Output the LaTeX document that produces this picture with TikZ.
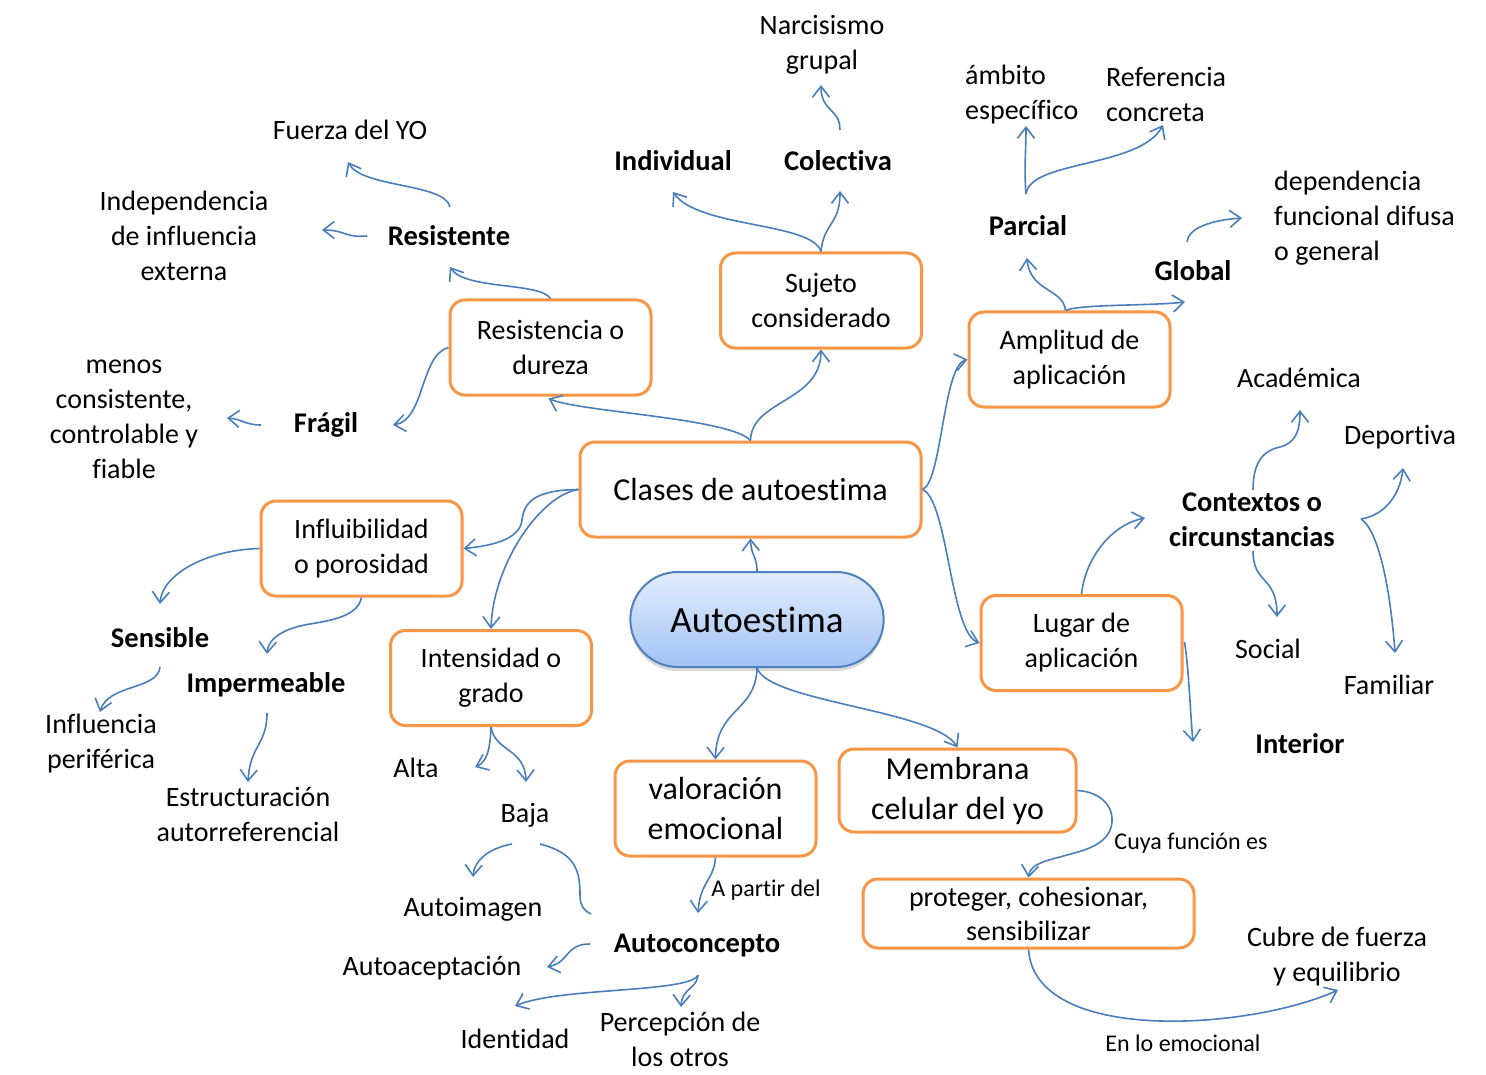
\documentclass[tikz,border=0pt]{standalone}
\usepackage{fontspec}
\setmainfont{Carlito}[Ligatures={NoCommon,NoDiscretionary,NoRare}]
\usetikzlibrary{arrows.meta,shapes.misc,shadows,calc}
\definecolor{boxor}{HTML}{F79646}
\definecolor{lblue}{HTML}{4A7EBB}
\definecolor{pilltop}{HTML}{E2EDFD}
\definecolor{pillbot}{HTML}{A3C2F4}
\definecolor{pilledge}{HTML}{4F81BD}
\newcommand\fsz[2]{\fontsize{#1}{#2}\selectfont}
\begin{document}
\begin{tikzpicture}[x=1pt,y=-1pt,
  box/.style={draw=boxor, line width=3pt, rounded corners=15pt, fill=white, minimum width=201pt, minimum height=95pt, align=center, inner sep=2pt, font=\fsz{28}{35}},
  lbl/.style={align=center, inner sep=0pt, font=\fsz{28}{35}},
  blbl/.style={align=center, inner sep=0pt, font=\fsz{28.5}{35}\bfseries},
  sml/.style={inner sep=0pt, font=\fsz{24}{29}},
  conn/.style={draw=lblue, line width=1.6pt, -{Straight Barb[length=11pt,width=17pt]}},
  pln/.style={draw=lblue, line width=1.6pt},
  pill/.style={rounded rectangle, draw=pilledge, line width=2pt, top color=pilltop, bottom color=pillbot, minimum width=260pt, minimum height=95pt, font=\fsz{37}{44}, drop shadow={shadow xshift=0pt, shadow yshift=-4pt, opacity=0.3}}
]
\fill[white] (0,0) rectangle (1486,1075);
\useasboundingbox (0,0) rectangle (1486,1075);

% boxes
\node[box] (suj) at (821,300.5) {Sujeto\\considerado};
\node[box] (res) at (550.5,347.5) {Resistencia o\\dureza};
\node[box, minimum width=341pt, font=\fsz{32}{38}] (cla) at (750.5,489.5) {Clases de autoestima};
\node[box] (amp) at (1069.5,359.5) {Amplitud de\\aplicación};
\node[box] (inf) at (361.5,548.5) {Influibilidad\\o porosidad};
\node[box] (int) at (491,678) {Intensidad o\\grado};
\node[box] (lug) at (1081.5,643) {Lugar de\\aplicación};
\node[box, font=\fsz{32}{40}] (val) at (715.5,808.5) {valoración\\emocional};
\node[box, minimum width=237pt, minimum height=83pt, font=\fsz{32}{40}] (mem) at (957.5,790.5) {Membrana\\celular del yo};
\node[box, minimum width=331pt, minimum height=69pt, font=\fsz{28}{34}] (pro) at (1028.5,913.5) {proteger, cohesionar,\\sensibilizar};
\node[pill] (aut) at (757,619.5) {Autoestima};

% labels
\node[lbl] (nar) at (822,44.5) {Narcisismo\\grupal};
\node[blbl] (ind) at (673,161) {Individual};
\node[blbl] (col) at (838,161) {Colectiva};
\node[lbl] (fue) at (350,130) {Fuerza del YO};
\node[lbl] (ide) at (184,236) {Independencia\\de influencia\\externa};
\node[blbl] (rste) at (449,236) {Resistente};
\node[lbl] (men) at (124,419.5) {menos\\consistente,\\controlable y\\fiable};
\node[blbl] (fra) at (326,425) {Frágil};
\node[lbl, align=left, anchor=west] (amb) at (965,94.5) {ámbito\\específico};
\node[lbl, align=left, anchor=west] (ref) at (1106,94.5) {Referencia\\concreta};
\node[blbl] (par) at (1028,226) {Parcial};
\node[blbl] (glo) at (1193,271) {Global};
\node[lbl, align=left, anchor=west] (dep) at (1274,218) {dependencia\\funcional difusa\\o general};
\node[lbl] (aca) at (1299,378) {Académica};
\node[lbl] (dpt) at (1400,437) {Deportiva};
\node[blbl] (ctx) at (1252,519.5) {Contextos o\\circunstancias};
\node[lbl] (soc) at (1268,649) {Social};
\node[lbl] (fam) at (1389,685) {Familiar};
\node[blbl] (intr) at (1300,744) {Interior};
\node[blbl] (sen) at (160,638) {Sensible};
\node[blbl] (imp) at (266,685) {Impermeable};
\node[lbl] (ifl) at (101,743.5) {Influencia\\periférica};
\node[lbl] (est) at (248,814.5) {Estructuración\\autorreferencial};
\node[lbl] (alt) at (416,768) {Alta};
\node[lbl] (baj) at (525,815) {Baja};
\node[lbl] (aim) at (473,909) {Autoimagen};
\node[blbl] (aco) at (697,945) {Autoconcepto};
\node[sml] (apd) at (766,890) {A partir del};
\node[lbl] (aac) at (432,968) {Autoaceptación};
\node[lbl] (idt) at (515,1039) {Identidad};
\node[lbl] (per) at (680,1039.5) {Percepción de\\los otros};
\node[sml] (cuy) at (1191,843) {Cuya función es};
\node[lbl] (cub) at (1337,957) {Cubre de fuerza\\y equilibrio};
\node[sml] (enl) at (1183,1043) {En lo emocional};

% connectors
\draw[conn] (aut.north) .. controls (757,556) and (751,556) .. (cla.south);
\draw[conn] (cla.north) .. controls (751,400) and (821,402) .. (suj.south);
\draw[conn] (cla.north) .. controls (730,418) and (580,412) .. ($(res.south)+(-2,2)$);
\draw[conn] (cla.west) .. controls (535,490) and (524,502) .. (522,520) .. controls (520,540) and (490,546) .. (inf.east);
\draw[conn] (cla.west) .. controls (540,495) and (493,565) .. (int.north);
\draw[conn] (cla.east) .. controls (942,482) and (943,365) .. (amp.west);
\draw[conn] (cla.east) .. controls (948,500) and (950,632) .. (lug.west);
\draw[conn] (aut.south) .. controls (756,712) and (716,708) .. (val.north);
\draw[conn] (aut.south) .. controls (768,702) and (935,710) .. (mem.north);
\draw[conn] (suj.north) .. controls (812,222) and (698,228) .. ($(ind.center)+(0,31)$);
\draw[conn] (suj.north) .. controls (824,222) and (840,225) .. ($(col.center)+(2,30)$);
\draw[conn] ($(col.center)+(2,-31)$) .. controls (840,108) and (821,112) .. ($(nar.center)+(-1,40.5)$);
\draw[conn] (res.north) .. controls (540,282) and (465,290) .. ($(rste.center)+(1,31)$);
\draw[conn] (res.west) .. controls (420,355) and (425,420) .. ($(fra.center)+(67,0)$);
\draw[conn] ($(rste.center)+(1,-29)$) .. controls (445,183) and (362,188) .. ($(fue.center)+(-2,32)$);
\draw[conn] ($(rste.center)+(-82,0)$) .. controls (345,238) and (345,230) .. ($(ide.center)+(138,-6)$);
\draw[conn] ($(fra.center)+(-65,0)$) .. controls (245,425) and (242,419) .. ($(men.center)+(103,-1.5)$);
\draw[conn] ($(amp.north)+(-4,0)$) .. controls (1063,288) and (1030,292) .. ($(par.center)+(-1,32)$);
\draw[conn] ($(amp.north)+(-4,0)$) .. controls (1080,304) and (1150,306) .. ($(glo.center)+(-8,31)$);
\draw[conn] ($(par.center)+(-2,-32)$) .. controls (1024,170) and (1026,150) .. ($(amb.west)+(61,31.5)$);
\draw[conn] ($(par.center)+(-2,-32)$) .. controls (1030,160) and (1140,168) .. ($(ref.west)+(57,30.5)$);
\draw[conn] ($(glo.center)+(-6,-29)$) .. controls (1188,228) and (1212,220) .. ($(dep.west)+(-32,0)$);
\draw[conn] (lug.north) .. controls (1085,560) and (1110,525) .. ($(ctx.center)+(-107,-1.5)$);
\draw[conn] ($(lug.east)+(1,-1)$) .. controls (1189,670) and (1190,710) .. ($(intr.center)+(-107,-2)$);
\draw[conn] ($(ctx.center)+(1,-29.5)$) .. controls (1253,460) and (1265,450) .. (1280,447) .. controls (1295,443) and (1300,432) .. ($(aca.center)+(1,32)$);
\draw[conn] ($(ctx.center)+(1,31.5)$) .. controls (1253,585) and (1277,575) .. ($(soc.center)+(9,-32)$);
\draw[conn] ($(ctx.center)+(109,-0.5)$) .. controls (1385,515) and (1400,495) .. ($(dpt.center)+(3,31)$);
\draw[conn] ($(ctx.center)+(109,-0.5)$) .. controls (1378,530) and (1390,585) .. ($(fam.center)+(6,-32)$);
\draw[conn] (inf.west) .. controls (205,550) and (162,575) .. ($(sen.center)+(0,-34)$);
\draw[conn] (inf.south) .. controls (358,615) and (335,620) .. (310,624) .. controls (285,628) and (268,638) .. ($(imp.center)+(1,-31)$);
\draw[conn] ($(sen.center)+(0,29)$) .. controls (158,690) and (108,684) .. ($(ifl.center)+(-1,-31.5)$);
\draw[conn] ($(imp.center)+(1,28)$) .. controls (267,745) and (250,745) .. ($(est.center)+(0,-32.5)$);
\draw[conn] (int.south) .. controls (490,750) and (487,762) .. ($(alt.center)+(59,-1)$);
\draw[conn] (int.south) .. controls (495,752) and (525,748) .. ($(baj.center)+(1,-33)$);
\draw[conn] ($(baj.center)+(-13,29)$) .. controls (490,848) and (474,860) .. ($(aim.center)+(0,-32)$);
\draw[pln] ($(baj.center)+(15,29)$) .. controls (575,853) and (580,870) .. (580,895) .. controls (580,907) and (585,911) .. ($(aco.center)+(-106,-31)$);
\draw[conn] (val.south) .. controls (714,880) and (700,882) .. ($(aco.center)+(1,-32)$);
\draw[conn] ($(aco.center)+(-107,-1)$) .. controls (565,944) and (570,962) .. ($(aac.center)+(115,-1)$);
\draw[conn] ($(aco.center)+(1,30)$) .. controls (690,993) and (560,987) .. ($(idt.center)+(0,-33)$);
\draw[conn] ($(aco.center)+(1,30)$) .. controls (697,989) and (682,988) .. ($(per.center)+(1,-32.5)$);
\draw[conn] (mem.east) .. controls (1100,792) and (1113,805) .. (1112,822) .. controls (1110,848) and (1075,852) .. (1060,857) .. controls (1040,862) and (1030,866) .. (pro.north);
\draw[conn] (pro.south) .. controls (1035,1045) and (1250,1030) .. ($(cub.center)+(1,33)$);
\end{tikzpicture}
\end{document}
